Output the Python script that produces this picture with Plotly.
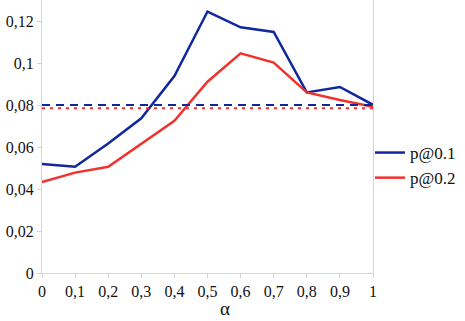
import plotly.graph_objects as go

alpha = [0, 0.1, 0.2, 0.3, 0.4, 0.5, 0.6, 0.7, 0.8, 0.9, 1.0]
p01 = [0.0519, 0.0506, 0.0617, 0.0737, 0.0938, 0.1245, 0.117, 0.1148, 0.086, 0.0886, 0.0801]
p02 = [0.0433, 0.0478, 0.0506, 0.0615, 0.0725, 0.0911, 0.1046, 0.1002, 0.086, 0.0824, 0.0792]
base01 = 0.080
base02 = 0.0784
names = ["p@0.1", "p@0.2"]

BLUE = "#10289c"
RED = "#f0322e"
W, H = 465, 321
L, R, T, B = 42, 92, 0, 48
FONT = "Liberation Serif, Times New Roman, serif"

fig = go.Figure()
fig.add_trace(go.Scatter(x=alpha, y=p01, mode="lines", name=names[0],
                         line=dict(color=BLUE, width=2.5)))
fig.add_trace(go.Scatter(x=alpha, y=p02, mode="lines", name=names[1],
                         line=dict(color=RED, width=2.5)))
fig.add_trace(go.Scatter(x=[alpha[0], alpha[-1]], y=[base01, base01], mode="lines",
                         showlegend=False, line=dict(color=BLUE, width=2, dash="8px,6px")))
fig.add_trace(go.Scatter(x=[alpha[0], alpha[-1]], y=[base02, base02], mode="lines",
                         showlegend=False, line=dict(color=RED, width=2, dash="3px,5px")))

pw = W - L - R
fig.update_layout(
    template="none",
    width=W, height=H,
    margin=dict(l=L, r=R, t=T, b=B, pad=0, autoexpand=False),
    paper_bgcolor="white", plot_bgcolor="white",
    separators=",.",
    font=dict(family=FONT, size=16, color="#111"),
    showlegend=True,
    legend=dict(xref="container", yref="container", x=370 / W, y=1 - 135 / H,
                xanchor="left", yanchor="top",
                font=dict(family=FONT, size=17), bgcolor="rgba(0,0,0,0)",
                tracegroupgap=0),
    xaxis=dict(range=[0, 1], tickvals=alpha, showgrid=False, zeroline=False,
               showline=True, linecolor="#d4d4d4", linewidth=1,
               ticks="outside", ticklen=4, tickcolor="#d4d4d4"),
    yaxis=dict(range=[0, 0.13], tickvals=[0, 0.02, 0.04, 0.06, 0.08, 0.1, 0.12],
               showgrid=False, zeroline=False,
               showline=True, mirror=True, linecolor="#d4d4d4", linewidth=1,
               ticks="outside", ticklen=4, tickcolor="#d4d4d4"),
    annotations=[dict(text="α", x=(225 - L) / pw, y=-35 / 273, xref="paper", yref="paper",
                      showarrow=False, font=dict(family=FONT, size=19),
                      xanchor="center", yanchor="middle")],
)
fig.write_html("out.html")
